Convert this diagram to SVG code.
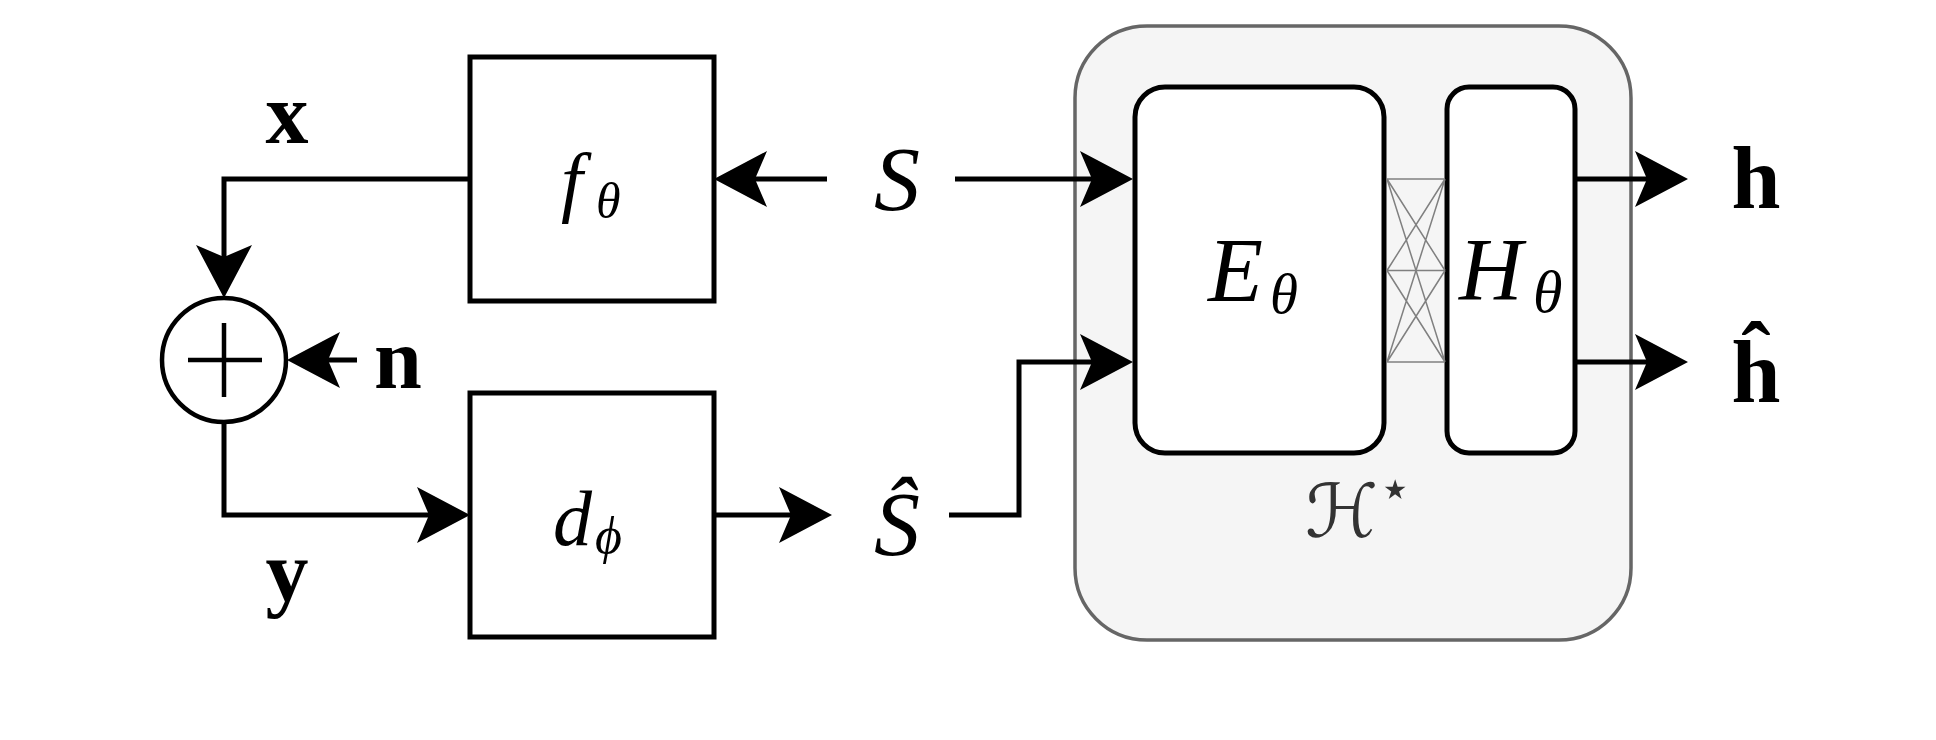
<svg xmlns="http://www.w3.org/2000/svg" width="1936" height="740" viewBox="0 0 1936 740">
<style>
  .box{fill:#ffffff;stroke:#000000;stroke-width:5}
  .wire{fill:none;stroke:#000000;stroke-width:5;stroke-linejoin:miter}
  .thin{fill:none;stroke:#808080;stroke-width:1.5}
  .mi{font-family:"Liberation Serif","DejaVu Serif",serif;font-style:italic;fill:#000}
  .bf{font-family:"Liberation Serif","DejaVu Serif",serif;font-weight:bold;fill:#000}
</style>
<defs>
  <marker id="arr" markerUnits="userSpaceOnUse" markerWidth="60" markerHeight="60" refX="20" refY="28" orient="auto" overflow="visible">
    <path d="M0,0 L53,28 L0,56 L12,28 Z" fill="#000"/>
  </marker>
</defs>
<rect width="1936" height="740" fill="#ffffff"/>

<g id="container-H">
  <rect x="1075" y="26" width="556" height="614" rx="72" ry="72" fill="#f5f5f5" stroke="#666666" stroke-width="3.5"/>
  <text x="1305" y="537" font-family="'DejaVu Sans','Liberation Serif',serif" font-size="74" fill="#333333">ℋ<tspan font-size="54" dy="-30">⋆</tspan></text>
</g>

<g id="node-E">
  <rect class="box" x="1135" y="87" width="249" height="366" rx="30" ry="30"/>
  <text class="mi" x="1208" y="301" font-size="90">E<tspan x="1270" y="313" font-size="57">θ</tspan></text>
</g>

<g id="node-H">
  <rect class="box" x="1447" y="87" width="128" height="366" rx="22" ry="22"/>
  <text class="mi" x="1459" y="299" font-size="88">H<tspan x="1533" y="312" font-size="60">θ</tspan></text>
</g>

<g id="dense-links">
  <path class="thin" d="M1387,179 H1445 M1387,270.5 H1445 M1387,362 H1445 M1387,179 L1445,270.5 M1387,179 L1445,362 M1387,270.5 L1445,179 M1387,270.5 L1445,362 M1387,362 L1445,179 M1387,362 L1445,270.5"/>
</g>

<g id="node-f">
  <rect class="box" x="470" y="57" width="244" height="244"/>
  <text class="mi" x="561" y="207" font-size="78">f<tspan x="596" y="218" font-size="50">θ</tspan></text>
</g>

<g id="node-d">
  <rect class="box" x="470" y="393" width="244" height="244"/>
  <text class="mi" x="553" y="545" font-size="78">d<tspan x="595" y="553" font-size="52">ϕ</tspan></text>
</g>

<g id="node-sum">
  <circle cx="224" cy="360" r="62" fill="#ffffff" stroke="#000" stroke-width="4.5"/>
  <path d="M188,360 H262 M224,323 V397" stroke="#000" stroke-width="4.5" fill="none"/>
</g>

<g id="labels">
  <text class="bf" x="287" y="143" font-size="86" text-anchor="middle">x</text>
  <text class="bf" x="374" y="388" font-size="86">n</text>
  <text class="bf" x="287" y="600" font-size="86" text-anchor="middle">y</text>
  <text class="mi" x="897" y="210" font-size="92" text-anchor="middle">S</text>
  <text class="mi" x="897" y="555" font-size="92" text-anchor="middle">Ŝ</text>
  <text class="bf" x="1756" y="208" font-size="88" text-anchor="middle">h</text>
  <text class="bf" x="1756" y="402" font-size="88" text-anchor="middle">ĥ</text>
</g>

<g id="connectors">
  <path class="wire" d="M470,179 H224 V265" marker-end="url(#arr)"/>
  <path class="wire" d="M357,360 H320" marker-end="url(#arr)"/>
  <path class="wire" d="M224,422 V515 H437" marker-end="url(#arr)"/>
  <path class="wire" d="M827,179 H747" marker-end="url(#arr)"/>
  <path class="wire" d="M955,179 H1100" marker-end="url(#arr)"/>
  <path class="wire" d="M714,515 H799" marker-end="url(#arr)"/>
  <path class="wire" d="M949,515 H1019 V362 H1100" marker-end="url(#arr)"/>
  <path class="wire" d="M1575,179 H1655" marker-end="url(#arr)"/>
  <path class="wire" d="M1575,362 H1655" marker-end="url(#arr)"/>
</g>
</svg>
